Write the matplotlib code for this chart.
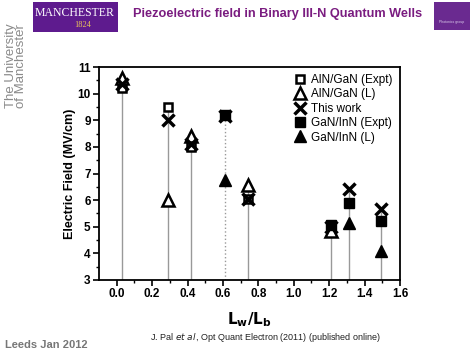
import matplotlib
matplotlib.use("Agg")
import matplotlib.pyplot as plt
from matplotlib.patches import Rectangle
from matplotlib.lines import Line2D

plt.rcParams['font.family'] = ['Liberation Sans', 'DejaVu Sans']

# Data
x_aln_expt = [0.03, 0.29, 0.42, 0.74]
y_aln_expt = [10.2, 9.5, 8.0, 6.05]
x_aln_l = [0.03, 0.29, 0.42, 0.74, 1.21]
y_aln_l = [10.6, 6.0, 8.4, 6.55, 4.85]
x_this = [0.03, 0.29, 0.42, 0.61, 0.74, 1.21, 1.31, 1.49]
y_this = [10.35, 9.0, 8.1, 9.15, 6.05, 5.0, 6.4, 5.65]
x_gan_expt = [0.61, 1.21, 1.31, 1.49]
y_gan_expt = [9.2, 5.05, 5.9, 5.2]
x_gan_l = [0.61, 1.31, 1.49]
y_gan_l = [6.75, 5.15, 4.1]
x_stems = [0.03, 0.29, 0.42, 0.61, 0.74, 1.21, 1.31, 1.49]
dotted_stems = [0.61]

xticks = [0.0, 0.2, 0.4, 0.6, 0.8, 1.0, 1.2, 1.4, 1.6]
yticks = [3, 4, 5, 6, 7, 8, 9, 10, 11]

W, H = 474, 355
fig = plt.figure(figsize=(W / 100, H / 100), dpi=100)
fig.patch.set_facecolor('white')

ax = fig.add_axes([99 / W, 1 - 280 / H, (400 - 99) / W, (280 - 67) / H])
ax.set_xlim(-0.1, 1.6)
ax.set_ylim(3, 11)

# stems
all_pts = {}
for xs, ys in [(x_aln_expt, y_aln_expt), (x_aln_l, y_aln_l), (x_this, y_this),
               (x_gan_expt, y_gan_expt), (x_gan_l, y_gan_l)]:
    for xv, yv in zip(xs, ys):
        all_pts[xv] = max(all_pts.get(xv, 0), yv)
for xv in x_stems:
    ls = ':' if xv in dotted_stems else '-'
    ax.plot([xv, xv], [3, all_pts[xv]], color='#999999', lw=1.0, ls=ls, zorder=1)

ax.plot(x_aln_expt, y_aln_expt, ls='none', marker='s', ms=6, mfc='white', mec='black', mew=1.8, zorder=3)
ax.plot(x_aln_l, y_aln_l, ls='none', marker='^', ms=8, mfc='white', mec='black', mew=1.8, zorder=3)
ax.plot(x_gan_expt, y_gan_expt, ls='none', marker='s', ms=7, mfc='black', mec='black', zorder=3)
ax.plot(x_gan_l, y_gan_l, ls='none', marker='^', ms=9, mfc='black', mec='black', zorder=3)
ax.plot(x_this, y_this, ls='none', marker='x', ms=8, mec='black', mew=2.5, zorder=4)

ax.set_xticks(xticks)
ax.set_xticklabels([f"{v:.1f}" for v in xticks])
ax.set_yticks(yticks)
ax.set_xticks([v + 0.1 for v in xticks[:-1]], minor=True)
ax.set_yticks([v + 0.5 for v in yticks[:-1]], minor=True)
ax.tick_params(axis='both', which='major', direction='out', length=4, width=1.2,
               labelsize=8.5, pad=2)
ax.tick_params(axis='both', which='minor', direction='out', length=2, width=1)
for lab in ax.get_xticklabels() + ax.get_yticklabels():
    lab.set_fontweight('bold')
for sp in ax.spines.values():
    sp.set_linewidth(1.3)

ax.set_ylabel('Electric Field (MV/cm)', fontsize=9, fontweight='bold', labelpad=1)
ax.set_xlabel(r'$\mathbf{L_w/L_b}$', fontsize=11, labelpad=7)

handles = [
    Line2D([], [], ls='none', marker='s', ms=6, mfc='white', mec='black', mew=1.8),
    Line2D([], [], ls='none', marker='^', ms=8, mfc='white', mec='black', mew=1.8),
    Line2D([], [], ls='none', marker='x', ms=8, mec='black', mew=2.5),
    Line2D([], [], ls='none', marker='s', ms=7, mfc='black', mec='black'),
    Line2D([], [], ls='none', marker='^', ms=9, mfc='black', mec='black'),
]
labels = ['AlN/GaN (Expt)', 'AlN/GaN (L)', 'This work', 'GaN/InN (Expt)', 'GaN/InN (L)']
ax.legend(handles, labels, loc='upper right', frameon=False, fontsize=8.5,
          handletextpad=0.4, labelspacing=0.2, borderaxespad=0.2,
          handlelength=1.2, bbox_to_anchor=(1.0, 1.0))

# Slide decorations
def box(x0, y0, x1, y1, color):
    fig.patches.append(Rectangle((x0 / W, 1 - y1 / H), (x1 - x0) / W, (y1 - y0) / H,
                                 transform=fig.transFigure, facecolor=color,
                                 edgecolor='none', zorder=0))

box(33, 2, 118, 32, '#5e1b8e')
fig.text(75 / W, 1 - 13 / H, 'MANCHESTER', color='white', fontsize=8.5,
         family='Liberation Serif', ha='center', va='center')
fig.text(83 / W, 1 - 25 / H, '1824', color='#e8c25a', fontsize=6,
         family='Liberation Serif', ha='center', va='center')
box(434, 2, 470, 30, '#6a2a90')
fig.text(452 / W, 1 - 22 / H, 'Photonics group', color='#d8c8e8', fontsize=2.5,
         ha='center', va='center')

fig.text(278 / W, 1 - 14 / H, 'Piezoelectric field in Binary III-N Quantum Wells',
         color='#7a1c80', fontsize=9.2, fontweight='bold', ha='center', va='center')

fig.text(16 / W, 1 - 66 / H, 'The University\nof Manchester', color='#8a8a8a',
         fontsize=9.5, rotation=90, ha='center', va='center', linespacing=0.85)

fig.text(5 / W, 1 - 345 / H, 'Leeds Jan 2012', color='#777777', fontsize=8,
         fontweight='bold', ha='left', va='center')
fig.text(265 / W, 1 - 338 / H,
         r'J. Pal $\it{et\ al}$, Opt Quant Electron (2011) (published online)',
         color='#222222', fontsize=6.5, ha='center', va='center')

fig.savefig('out.png', dpi=100, facecolor='white')
